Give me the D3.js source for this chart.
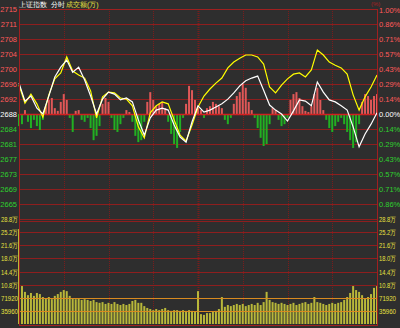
<!DOCTYPE html>
<html>
<head>
<meta charset="utf-8">
<style>
  body { margin: 0; background: #2e2e2e; }
  svg { display: block; }
  text { font-family: "Liberation Sans", Arial, sans-serif; }
</style>
</head>
<body>
<script src="https://cdn.jsdelivr.net/npm/d3@7/dist/d3.min.js"></script>
<script>

  var prevClose = 2688.3;

  var priceTicks = ['2715', '2711', '2708', '2704', '2700', '2696', '2692', '2688',
                    '2684', '2681', '2677', '2673', '2669', '2665'];
  var pctTicks = ['1.00%', '0.86%', '0.71%', '0.57%', '0.43%', '0.29%', '0.14%', '0.00%',
                  '0.14%', '0.29%', '0.43%', '0.57%', '0.71%', '0.86%'];
  var volTicks = ['28.8万', '25.2万', '21.6万', '18.0万', '14.4万', '10.8万', '71920', '35960'];
  var timeLabels = ['09:30', '10:30', '13:00', '14:00'];

  // index, every 4 minutes
  var price = [2696.2, 2691.6, 2692.9, 2689.8, 2688.3, 2692.9, 2697.8, 2700.3, 2702.1, 2699.0,
               2700.3, 2697.0, 2692.9, 2688.3, 2692.1, 2693.9, 2693.4, 2691.9, 2692.4, 2691.4,
               2686.8, 2682.9, 2687.3, 2689.3, 2689.8, 2689.3, 2685.5, 2682.4, 2681.1, 2686.3,
               2690.4, 2688.8, 2689.3, 2690.1, 2690.9, 2692.1, 2693.7, 2695.5, 2696.8, 2697.5,
               2698.0, 2694.4, 2690.6, 2689.3, 2688.3, 2686.5, 2689.1, 2691.9, 2691.6, 2690.4,
               2696.5, 2693.9, 2691.9, 2691.4, 2690.4, 2689.3, 2685.0, 2679.9, 2683.2, 2685.7,
               2688.6];
  // unweighted index, every 4 minutes
  var avgPrice = [2695.7, 2691.1, 2693.4, 2690.9, 2687.5, 2693.2, 2697.3, 2698.8, 2702.9, 2699.3,
                  2698.3, 2697.5, 2694.2, 2687.3, 2692.7, 2693.9, 2693.7, 2692.4, 2692.1, 2690.4,
                  2685.0, 2682.2, 2688.6, 2690.4, 2691.4, 2690.9, 2686.8, 2682.9, 2681.4, 2685.5,
                  2690.1, 2692.9, 2694.7, 2696.2, 2697.5, 2700.1, 2701.6, 2702.6, 2703.4, 2703.4,
                  2702.9, 2701.1, 2695.2, 2693.7, 2695.7, 2697.3, 2698.5, 2698.8, 2697.8, 2699.6,
                  2704.7, 2703.4, 2701.6, 2700.8, 2700.1, 2698.5, 2693.2, 2689.3, 2692.7, 2695.2,
                  2698.3];
  // red / green strength bars, every 2 minutes
  var strength = [-3.1, -2.6, 1.0, -2.0, -3.6, -1.5, -3.1, -4.1, -1.5, 2.0,
                  3.6, 4.1, 1.5, 0.8, 3.1, 5.1, 3.6, -1.0, -4.6, 0.8,
                  1.0, -1.5, -2.0, -1.0, -3.6, -6.7, -5.6, -3.1, 2.6, 4.1,
                  3.1, -1.0, -4.1, -4.6, -2.6, -1.0, 1.0, 0.5, -2.0, -5.6,
                  -7.2, -6.7, -2.0, 3.1, 5.6, 3.6, 2.0, 2.6, 3.1, 1.5,
                  -2.0, -5.1, -7.7, -8.7, -4.6, -1.0, 2.6, 7.2, 6.1, 3.6,
                  1.5, 1.0, -1.0, 1.5, 2.0, 3.1, 2.6, 2.0, 1.5, -1.5,
                  -2.6, -1.0, 2.6, 4.6, 5.6, 7.7, 6.7, 3.1, 1.0, -1.0,
                  -3.6, -6.1, -8.2, -7.7, -2.6, 1.5, 1.0, -1.5, -3.1, -2.6,
                  -1.0, 3.6, 5.1, 5.6, 4.1, 2.0, 0.8, 0.5, 2.0, 5.1,
                  6.7, 3.6, 1.0, -1.5, -3.6, -4.6, -3.1, -2.0, -1.0, -2.6,
                  -4.6, -6.7, -8.7, -7.2, -2.6, 3.1, 5.1, 4.6, 3.6, 4.6,
                  5.1];
  // turnover (万), every 2 minutes
  var volume = [26.0, 10.4, 8.8, 7.9, 8.5, 7.7, 8.5, 8.2, 7.4, 7.1,
                7.4, 6.8, 7.7, 8.2, 8.8, 9.3, 9.0, 7.7, 7.1, 6.8,
                7.1, 6.6, 6.8, 6.6, 6.3, 6.6, 6.0, 5.8, 6.0, 5.5,
                5.8, 5.5, 6.0, 5.5, 5.2, 5.5, 5.2, 5.5, 6.3, 6.6,
                5.8, 5.8, 4.9, 4.4, 4.1, 3.8, 4.1, 3.8, 4.1, 4.4,
                3.8, 3.6, 3.8, 3.8, 3.6, 3.8, 3.6, 3.8, 3.6, 3.3,
                9.0, 2.7, 2.5, 3.0, 3.0, 3.3, 3.6, 4.1, 7.4, 4.7,
                5.2, 4.9, 5.2, 5.5, 5.2, 5.5, 4.9, 5.2, 5.5, 5.2,
                5.8, 5.2, 6.0, 8.8, 6.6, 6.0, 5.8, 5.5, 5.8, 5.5,
                5.2, 5.5, 5.8, 5.2, 5.5, 5.8, 6.0, 5.5, 5.8, 7.4,
                6.0, 5.8, 5.5, 5.2, 5.5, 5.8, 5.5, 5.8, 6.0, 6.6,
                7.4, 8.5, 10.4, 9.3, 8.8, 7.9, 7.1, 7.4, 8.2, 9.9,
                10.4];

  var plotL = 19, plotR = 377, plotT = 9, plotMid = 219, plotB = 324;
  var volMax = 28.768;

  var svg = d3.select('body').append('svg')
    .attr('width', 400)
    .attr('height', 328)
    .style('background', '#2e2e2e');

  var x = d3.scaleLinear().domain([0, 240]).range([plotL, plotR]);
  var yPrice = d3.scaleLinear()
    .domain([prevClose * 0.99, prevClose * 1.01])
    .range([plotMid, plotT]);
  var yVol = d3.scaleLinear().domain([0, volMax]).range([plotB, plotMid]);

  function minuteOf(arr) {
    return function(i) { return i * 240 / (arr.length - 1); };
  }
  function levelY(k) {
    return Math.round(yPrice(prevClose * (1 + k / 700))) + 0.5;
  }

  // vertical dotted lines every 30 minutes
  svg.append('g')
    .selectAll('line')
    .data(d3.range(30, 240, 30))
    .join('line')
      .attr('x1', d => Math.round(x(d)) + 0.5)
      .attr('x2', d => Math.round(x(d)) + 0.5)
      .attr('y1', plotT)
      .attr('y2', plotB)
      .attr('stroke', '#7a1c1c')
      .attr('stroke-width', d => d == 120 ? 2 : 1)
      .attr('stroke-dasharray', '1,1');

  // price panel horizontal grid
  svg.append('g')
    .selectAll('line')
    .data(d3.range(7, -7, -1))
    .join('line')
      .attr('x1', plotL)
      .attr('x2', plotR)
      .attr('y1', d => levelY(d))
      .attr('y2', d => levelY(d))
      .attr('stroke', '#8e1e1e');

  // strength bars
  var sMin = minuteOf(strength);
  svg.append('g')
    .selectAll('rect')
    .data(strength)
    .join('rect')
      .attr('x', (d, i) => x(sMin(i)) - 1)
      .attr('width', 2)
      .attr('y', d => d > 0 ? yPrice(prevClose + d) : yPrice(prevClose))
      .attr('height', d => Math.abs(yPrice(prevClose + d) - yPrice(prevClose)))
      .attr('fill', d => d > 0 ? '#e05858' : '#22b022');

  // zero line
  svg.append('line')
    .attr('x1', plotL).attr('x2', plotR)
    .attr('y1', levelY(0)).attr('y2', levelY(0))
    .attr('stroke', '#d02020')
    .attr('stroke-width', 1.5);

  var pMin = minuteOf(price);
  var line = d3.line()
    .x((d, i) => x(pMin(i)))
    .y(d => yPrice(d));

  svg.append('path')
    .datum(avgPrice)
    .attr('fill', 'none')
    .attr('stroke', '#ffff00')
    .attr('stroke-width', 1.2)
    .attr('d', line);

  svg.append('path')
    .datum(price)
    .attr('fill', 'none')
    .attr('stroke', '#ffffff')
    .attr('stroke-width', 1.2)
    .attr('d', line);

  // volume bars
  var vMin = minuteOf(volume);
  svg.append('g')
    .selectAll('rect')
    .data(volume)
    .join('rect')
      .attr('x', (d, i) => x(vMin(i)) - 1)
      .attr('width', 2)
      .attr('y', d => yVol(d))
      .attr('height', d => plotB - yVol(d))
      .attr('fill', '#b8b83a');

  // volume grid
  svg.append('g')
    .selectAll('line')
    .data(d3.range(8, 0, -1))
    .join('line')
      .attr('x1', plotL)
      .attr('x2', plotR)
      .attr('y1', d => Math.round(yVol(volMax * d / 8)) + 0.5)
      .attr('y2', d => Math.round(yVol(volMax * d / 8)) + 0.5)
      .attr('stroke', d => d <= 2 ? '#d88a20' : '#8e1e1e');

  svg.append('line')
    .attr('x1', plotL).attr('x2', plotR)
    .attr('y1', plotMid + 2.5).attr('y2', plotMid + 2.5)
    .attr('stroke', '#8e1e1e');

  // frame
  svg.append('rect')
    .attr('x', plotL + 0.5)
    .attr('y', plotT + 0.5)
    .attr('width', plotR - plotL)
    .attr('height', plotB - plotT + 1)
    .attr('fill', 'none')
    .attr('stroke', '#a02020');

  var labelColor = (d, i) => i < 7 ? '#ff5a5a' : (i == 7 ? '#ffffff' : '#2ed02e');

  // left price labels
  svg.append('g')
    .selectAll('text')
    .data(priceTicks)
    .join('text')
      .attr('x', 17)
      .attr('y', (d, i) => levelY(7 - i) + 2.5)
      .attr('text-anchor', 'end')
      .attr('font-size', 7.5)
      .attr('fill', labelColor)
      .text(d => d);

  // right percent labels
  svg.append('g')
    .selectAll('text')
    .data(pctTicks)
    .join('text')
      .attr('x', 379)
      .attr('y', (d, i) => levelY(7 - i) + (i == 0 ? 3.5 : 2.5))
      .attr('font-size', 7.5)
      .attr('fill', labelColor)
      .text(d => d);

  // volume labels, both sides
  [1, 379].forEach(function(lx) {
    svg.append('g')
      .selectAll('text')
      .data(volTicks)
      .join('text')
        .attr('x', lx)
        .attr('y', (d, i) => Math.round(yVol(volMax * (8 - i) / 8)) + 3)
        .attr('font-size', 7)
        .attr('textLength', 17)
        .attr('lengthAdjust', 'spacingAndGlyphs')
        .attr('fill', '#e8e040')
        .text(d => d);
  });

  // time labels (cut by the bottom edge)
  var timeMinutes = [0, 60, 120, 180];
  svg.append('g')
    .selectAll('text')
    .data(timeLabels)
    .join('text')
      .attr('x', (d, i) => i == 0 ? 18 : x(timeMinutes[i]) - 1)
      .attr('y', 334)
      .attr('text-anchor', 'end')
      .attr('font-size', 8)
      .attr('fill', '#d03030')
      .text(d => d);

  // header
  var header = svg.append('g').attr('font-size', 7);
  header.append('text').attr('x', 19).attr('y', 7).attr('fill', '#ffffff').text('上证指数');
  header.append('text').attr('x', 51).attr('y', 7).attr('fill', '#ffffff').text('分时');
  header.append('text').attr('x', 66).attr('y', 7).attr('fill', '#e8e040').text('成交额(万)');
  header.append('text').attr('x', 371).attr('y', 6).attr('font-size', 6)
    .attr('fill', '#b02020').text('(%)');

</script>
</body>
</html>
